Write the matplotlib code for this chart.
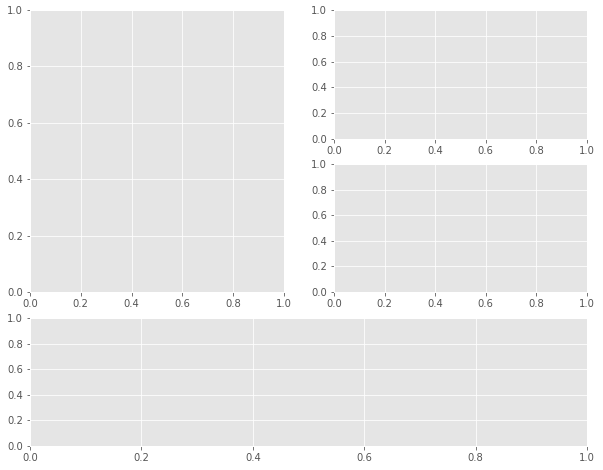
import matplotlib
matplotlib.use('Agg')
import matplotlib.pyplot as plt
from matplotlib import style

style.use('ggplot')

W, H = 603, 470
DPI = 72
fig = plt.figure(figsize=(W / DPI, H / DPI), dpi=DPI)


def box(x0, y0, x1, y1):
    # pixel box -> figure fraction
    return [x0 / W, 1 - y1 / H, (x1 - x0) / W, (y1 - y0) / H]


ax1 = fig.add_axes(box(30, 10, 284, 292))
ax2 = fig.add_axes(box(334, 10, 587, 139))
ax3 = fig.add_axes(box(334, 164, 587, 292))
ax4 = fig.add_axes(box(30, 318, 587, 446))

fig.savefig('out.png', dpi=DPI)
